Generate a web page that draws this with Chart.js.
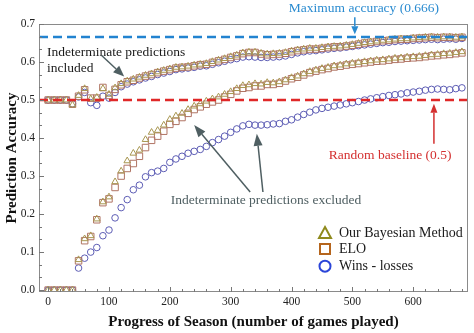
<!DOCTYPE html>
<html>
<head>
<meta charset="utf-8">
<script src="https://cdn.jsdelivr.net/npm/chart.js@4.4.0/dist/chart.umd.min.js"></script>
<style>
  html, body { margin: 0; padding: 0; background: #fff; }
  #wrap { width: 474px; height: 333px; position: relative; }
</style>
</head>
<body>
<div id="wrap"><canvas id="accuracyChart"></canvas></div>
<script>
// games played (x) - one point every 10 games
var games = [0, 10, 20, 30, 40, 50, 60, 70, 80, 90,
  100, 110, 120, 130, 140, 150, 160, 170, 180, 190,
  200, 210, 220, 230, 240, 250, 260, 270, 280, 290,
  300, 310, 320, 330, 340, 350, 360, 370, 380, 390,
  400, 410, 420, 430, 440, 450, 460, 470, 480, 490,
  500, 510, 520, 530, 540, 550, 560, 570, 580, 590,
  600, 610, 620, 630, 640, 650, 660, 670, 680];

// indeterminate predictions included
var incBayes = [0.50, 0.50, 0.50, 0.50, 0.487, 0.512, 0.53, 0.503, 0.507, 0.53,
  0.515, 0.532, 0.543, 0.55, 0.555, 0.56, 0.565, 0.569, 0.574, 0.578,
  0.582, 0.586, 0.587, 0.589, 0.592, 0.594, 0.596, 0.601, 0.605, 0.609,
  0.614, 0.618, 0.624, 0.626, 0.626, 0.623, 0.621, 0.622, 0.623, 0.625,
  0.629, 0.632, 0.634, 0.636, 0.636, 0.638, 0.64, 0.641, 0.642, 0.644,
  0.646, 0.649, 0.651, 0.653, 0.655, 0.657, 0.658, 0.66, 0.661, 0.661,
  0.663, 0.664, 0.665, 0.666, 0.665, 0.666, 0.666, 0.665, 0.666];
var incElo = [0.50, 0.50, 0.50, 0.50, 0.489, 0.51, 0.527, 0.505, 0.505, 0.533,
  0.512, 0.528, 0.54, 0.548, 0.552, 0.558, 0.563, 0.567, 0.572, 0.576,
  0.58, 0.584, 0.586, 0.587, 0.59, 0.593, 0.594, 0.599, 0.603, 0.607,
  0.612, 0.616, 0.622, 0.625, 0.625, 0.621, 0.619, 0.62, 0.621, 0.623,
  0.627, 0.63, 0.632, 0.634, 0.634, 0.636, 0.638, 0.64, 0.64, 0.642,
  0.644, 0.647, 0.65, 0.652, 0.654, 0.656, 0.657, 0.659, 0.66, 0.66,
  0.662, 0.663, 0.664, 0.665, 0.664, 0.665, 0.665, 0.664, 0.665];
var incWins = [0.50, 0.50, 0.50, 0.50, 0.49, 0.508, 0.52, 0.493, 0.486, 0.51,
  0.505, 0.52, 0.535, 0.542, 0.548, 0.553, 0.558, 0.562, 0.567, 0.571,
  0.575, 0.58, 0.582, 0.584, 0.586, 0.589, 0.59, 0.594, 0.598, 0.602,
  0.606, 0.609, 0.613, 0.614, 0.613, 0.612, 0.612, 0.613, 0.614, 0.616,
  0.62, 0.624, 0.627, 0.629, 0.63, 0.632, 0.634, 0.636, 0.637, 0.639,
  0.641, 0.643, 0.645, 0.647, 0.649, 0.651, 0.652, 0.654, 0.655, 0.656,
  0.657, 0.658, 0.659, 0.66, 0.659, 0.66, 0.661, 0.66, 0.662];

// indeterminate predictions excluded
var excBayes = [0, 0, 0, 0, 0, 0.08, 0.135, 0.143, 0.187, 0.232,
  0.245, 0.285, 0.313, 0.34, 0.36, 0.368, 0.396, 0.415, 0.42, 0.434,
  0.449, 0.458, 0.465, 0.475, 0.484, 0.49, 0.497, 0.503, 0.508, 0.515,
  0.522, 0.53, 0.538, 0.54, 0.543, 0.542, 0.546, 0.545, 0.548, 0.553,
  0.559, 0.563, 0.569, 0.575, 0.579, 0.583, 0.586, 0.59, 0.592, 0.595,
  0.597, 0.599, 0.601, 0.603, 0.605, 0.606, 0.608, 0.61, 0.611, 0.613,
  0.614, 0.615, 0.617, 0.619, 0.62, 0.622, 0.623, 0.625, 0.627];
var excElo = [0, 0, 0, 0, 0, 0.077, 0.13, 0.141, 0.185, 0.23,
  0.24, 0.27, 0.30, 0.32, 0.333, 0.352, 0.375, 0.394, 0.405, 0.418,
  0.436, 0.444, 0.454, 0.465, 0.475, 0.482, 0.489, 0.495, 0.50, 0.508,
  0.515, 0.524, 0.531, 0.533, 0.537, 0.537, 0.541, 0.541, 0.544, 0.55,
  0.556, 0.56, 0.566, 0.572, 0.576, 0.58, 0.583, 0.587, 0.589, 0.592,
  0.594, 0.596, 0.598, 0.60, 0.602, 0.603, 0.605, 0.607, 0.608, 0.61,
  0.611, 0.612, 0.614, 0.616, 0.617, 0.619, 0.62, 0.622, 0.624];
var excWins = [0, 0, 0, 0, 0, 0.058, 0.084, 0.10, 0.112, 0.143,
  0.158, 0.19, 0.217, 0.238, 0.264, 0.276, 0.298, 0.309, 0.313, 0.32,
  0.336, 0.345, 0.352, 0.36, 0.365, 0.37, 0.378, 0.388, 0.396, 0.405,
  0.415, 0.424, 0.432, 0.436, 0.434, 0.434, 0.435, 0.437, 0.438, 0.444,
  0.448, 0.455, 0.462, 0.468, 0.474, 0.478, 0.481, 0.484, 0.487, 0.49,
  0.493, 0.496, 0.50, 0.503, 0.506, 0.509, 0.512, 0.514, 0.516, 0.519,
  0.521, 0.523, 0.526, 0.528, 0.529, 0.528, 0.527, 0.53, 0.532];

var maxAccuracy = 0.666;
var randomBaseline = 0.5;

var xTicks = [0, 100, 200, 300, 400, 500, 600];
var yTicks = [0.0, 0.1, 0.2, 0.3, 0.4, 0.5, 0.6, 0.7];
var xMin = -15, xMax = 690, yMin = -0.005, yMax = 0.7;

var serif = "'Liberation Serif', 'Times New Roman', serif";

function points(ys) {
  return games.map(function (g, i) { return { x: g, y: ys[i] }; });
}

function drawArrow(ctx, x1, y1, x2, y2, color, headLen, headW, lw) {
  var ang = Math.atan2(y2 - y1, x2 - x1);
  var bx = x2 - headLen * Math.cos(ang), by = y2 - headLen * Math.sin(ang);
  ctx.strokeStyle = color;
  ctx.fillStyle = color;
  ctx.lineWidth = lw;
  ctx.beginPath();
  ctx.moveTo(x1, y1);
  ctx.lineTo(bx, by);
  ctx.stroke();
  ctx.beginPath();
  ctx.moveTo(x2, y2);
  ctx.lineTo(bx + headW / 2 * Math.sin(ang), by - headW / 2 * Math.cos(ang));
  ctx.lineTo(bx - headW / 2 * Math.sin(ang), by + headW / 2 * Math.cos(ang));
  ctx.closePath();
  ctx.fill();
}

// frame, inward ticks, annotations and legend
var decorations = {
  id: "decorations",
  afterDraw: function (chart) {
    var ctx = chart.ctx;
    var a = chart.chartArea;
    var xs = chart.scales.x, ys = chart.scales.y;
    var px = function (v) { return xs.getPixelForValue(v); };
    var py = function (v) { return ys.getPixelForValue(v); };
    ctx.save();

    // box
    ctx.strokeStyle = "#8a8a8a";
    ctx.lineWidth = 1;
    ctx.strokeRect(Math.round(a.left) + 0.5, Math.round(a.top) + 0.5,
      Math.round(a.right - a.left) - 1, Math.round(a.bottom - a.top) - 1);

    // ticks pointing in
    ctx.strokeStyle = "#777";
    ctx.beginPath();
    for (var g = 0; g <= 680; g += 20) {
      var len = g % 100 === 0 ? 5 : 3;
      var x = Math.round(px(g)) + 0.5;
      ctx.moveTo(x, a.bottom);
      ctx.lineTo(x, a.bottom - len);
    }
    for (var k = 0; k <= 21; k++) {
      var l2 = k % 3 === 0 ? 5 : 3;
      var y = Math.round(py(k / 30)) + 0.5;
      ctx.moveTo(a.left, y);
      ctx.lineTo(a.left + l2, y);
    }
    ctx.stroke();

    ctx.textBaseline = "middle";
    ctx.font = "13.5px " + serif;

    // maximum accuracy
    ctx.fillStyle = "#2a8bd0";
    ctx.textAlign = "center";
    ctx.fillText("Maximum accuracy (0.666)", px(519), py(0.74));
    drawArrow(ctx, px(504), py(0.718), px(504), py(0.673), "#2a8bd0", 8, 7, 1.5);

    // random baseline
    ctx.fillStyle = "#d43030";
    ctx.fillText("Random baseline (0.5)", px(562), py(0.355));
    drawArrow(ctx, px(634), py(0.385), px(634), py(0.49), "#d43030", 9, 7, 1.5);

    // indeterminate predictions
    ctx.fillStyle = "#1a1a1a";
    ctx.textAlign = "left";
    ctx.fillText("Indeterminate predictions", px(-2), py(0.626));
    ctx.fillText("included", px(-2), py(0.584));
    drawArrow(ctx, px(88), py(0.617), px(125), py(0.562), "#4f5f62", 11, 9, 1.5);

    ctx.textAlign = "center";
    ctx.fillText("Indeterminate predictions excluded", px(358), py(0.237));
    drawArrow(ctx, px(332), py(0.258), px(240), py(0.434), "#4f5f62", 12, 9, 1.5);
    drawArrow(ctx, px(353), py(0.258), px(343), py(0.411), "#4f5f62", 12, 9, 1.5);

    // legend
    var lx = px(455), tx = px(478);
    var rows = [
      { text: "Our Bayesian Method", v: 0.150, color: "#8f8a1c", shape: "tri" },
      { text: "ELO", v: 0.108, color: "#b5651d", shape: "sq" },
      { text: "Wins - losses", v: 0.063, color: "#2b45d8", shape: "circ" }
    ];
    ctx.font = "14px " + serif;
    ctx.textAlign = "left";
    rows.forEach(function (r) {
      var cy = py(r.v);
      ctx.strokeStyle = r.color;
      ctx.lineWidth = 2;
      ctx.beginPath();
      if (r.shape === "tri") {
        ctx.moveTo(lx, cy - 6);
        ctx.lineTo(lx + 6, cy + 5);
        ctx.lineTo(lx - 6, cy + 5);
        ctx.closePath();
      } else if (r.shape === "sq") {
        ctx.rect(lx - 5, cy - 5, 10, 10);
      } else {
        ctx.arc(lx, cy, 5.5, 0, Math.PI * 2);
      }
      ctx.stroke();
      ctx.fillStyle = "#1a1a1a";
      ctx.fillText(r.text, tx, cy);
    });

    ctx.restore();
  }
};

var triColor = "#a89650";
var sqColor = "#b07464";
var circColor = "#5c5cb4";

new Chart(document.getElementById("accuracyChart"), {
  type: "scatter",
  data: {
    datasets: [
      {
        label: "Maximum accuracy",
        type: "line",
        data: [{ x: xMin, y: maxAccuracy }, { x: xMax, y: maxAccuracy }],
        borderColor: "#2283d0",
        borderWidth: 2.5,
        borderDash: [9, 5],
        pointRadius: 0,
        fill: false
      },
      {
        label: "Random baseline",
        type: "line",
        data: [{ x: xMin, y: randomBaseline }, { x: xMax, y: randomBaseline }],
        borderColor: "#e02828",
        borderWidth: 2.5,
        borderDash: [9, 5],
        pointRadius: 0,
        fill: false
      },
      { label: "Our Bayesian Method (incl.)", data: points(incBayes), pointStyle: "triangle", pointRadius: 3.8, borderColor: triColor, borderWidth: 1, backgroundColor: "rgba(0,0,0,0)" },
      { label: "ELO (incl.)", data: points(incElo), pointStyle: "rect", pointRadius: 4.6, borderColor: sqColor, borderWidth: 1, backgroundColor: "rgba(0,0,0,0)" },
      { label: "Wins - losses (incl.)", data: points(incWins), pointStyle: "circle", pointRadius: 3.3, borderColor: circColor, borderWidth: 1, backgroundColor: "rgba(0,0,0,0)" },
      { label: "Our Bayesian Method (excl.)", data: points(excBayes), pointStyle: "triangle", pointRadius: 3.8, borderColor: triColor, borderWidth: 1, backgroundColor: "rgba(0,0,0,0)" },
      { label: "ELO (excl.)", data: points(excElo), pointStyle: "rect", pointRadius: 4.6, borderColor: sqColor, borderWidth: 1, backgroundColor: "rgba(0,0,0,0)" },
      { label: "Wins - losses (excl.)", data: points(excWins), pointStyle: "circle", pointRadius: 3.3, borderColor: circColor, borderWidth: 1, backgroundColor: "rgba(0,0,0,0)" }
    ]
  },
  options: {
    responsive: true,
    maintainAspectRatio: false,
    animation: false,
    layout: { padding: { top: 24, right: 6, left: 0, bottom: 0 } },
    plugins: {
      legend: { display: false },
      tooltip: { enabled: false }
    },
    scales: {
      x: {
        type: "linear",
        min: xMin,
        max: xMax,
        grid: { display: false, drawTicks: false },
        border: { display: false },
        afterBuildTicks: function (scale) {
          scale.ticks = xTicks.map(function (v) { return { value: v }; });
        },
        afterFit: function (scale) { scale.height = 41; },
        ticks: {
          color: "#222",
          padding: 3,
          maxRotation: 0,
          font: { family: serif, size: 11.5 },
          callback: function (v) { return String(v); }
        },
        title: {
          display: true,
          text: "Progress of Season (number of games played)",
          color: "#111",
          padding: { top: 0, bottom: 2 },
          font: { family: serif, size: 15, weight: "bold" }
        }
      },
      y: {
        min: yMin,
        max: yMax,
        grid: { display: false, drawTicks: false },
        border: { display: false },
        afterBuildTicks: function (scale) {
          scale.ticks = yTicks.map(function (v) { return { value: v }; });
        },
        afterFit: function (scale) { scale.width = 39; },
        ticks: {
          color: "#222",
          padding: 4,
          font: { family: serif, size: 11.5 },
          callback: function (v) { return v.toFixed(1); }
        },
        title: {
          display: true,
          text: "Prediction Accuracy",
          color: "#111",
          padding: { top: 3, bottom: 0 },
          font: { family: serif, size: 15, weight: "bold" }
        }
      }
    }
  },
  plugins: [decorations]
});
</script>
</body>
</html>
